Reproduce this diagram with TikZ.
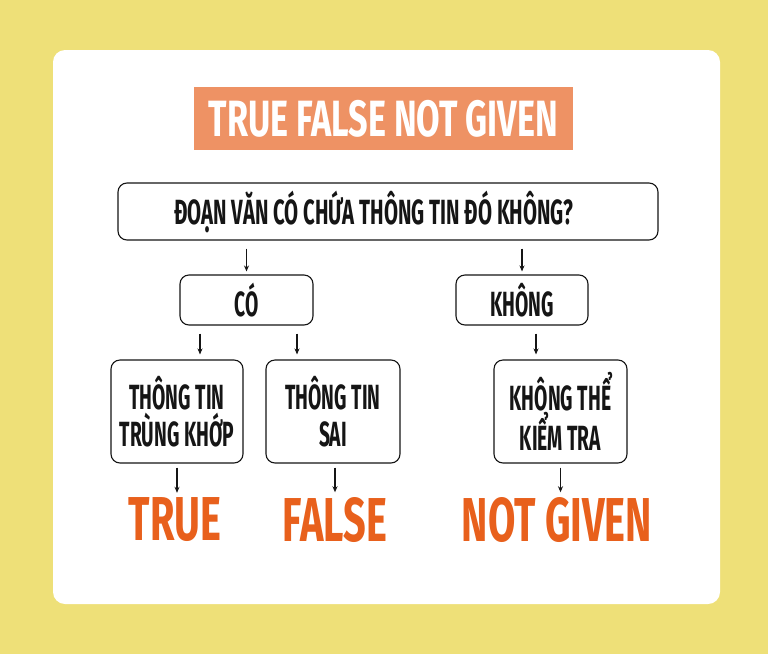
\documentclass[tikz,border=0pt]{standalone}
\usepackage{fontspec}
\newfontfamily\cfT{Fira Sans}[FakeStretch=0.67]
\newfontfamily\cfR{Fira Sans}[FakeStretch=0.64]
\newfontfamily\cfB{Fira Sans}[FakeStretch=0.55]
\newfontfamily\cfQ{Fira Sans}[FakeStretch=0.58]
\usetikzlibrary{arrows.meta}
\definecolor{bgy}{HTML}{EEE078}
\definecolor{ttl}{HTML}{EE9264}
\definecolor{res}{HTML}{E8601C}
\definecolor{ink}{HTML}{151515}
\begin{document}
\begin{tikzpicture}[x=1pt,y=-1pt,
  box/.style={draw=ink, line width=1.1pt, rounded corners=9pt, fill=white, inner sep=0pt, align=center},
  boxtxt/.style={font=\cfB\bfseries\fontsize{35}{37}\selectfont, text=ink},
  restxt/.style={font=\cfR\bfseries\fontsize{62}{62}\selectfont, text=res, inner sep=0pt},
  arr/.style={draw=ink, line width=1.1pt, -{Stealth[length=6pt,width=5pt]}}]
\useasboundingbox (0,0) rectangle (768,654);
\fill[bgy] (0,0) rectangle (768,654);
\fill[white, rounded corners=12pt] (53,50) rectangle (720,604);
\node[fill=ttl, minimum width=379pt, minimum height=63pt, inner sep=0pt,
  font=\cfT\bfseries\fontsize{51}{51}\selectfont, text=white] (title) at (383.5,118.5) {TRUE FALSE NOT GIVEN};
\node[box, font=\cfQ\bfseries\fontsize{35}{37}\selectfont, text=ink, minimum width=540pt, minimum height=57pt] (q) at (388,211.5) {ĐOẠN VĂN CÓ CHỨA THÔNG TIN ĐÓ KHÔNG?\hspace*{28pt}};
\node[box, boxtxt, minimum width=133pt, minimum height=50pt] (co) at (246.5,300) {CÓ};
\node[box, boxtxt, minimum width=132pt, minimum height=50pt] (kh) at (522,300) {KHÔNG};
\node[box, boxtxt, minimum width=132pt, minimum height=103pt] (ttk) at (177,411.5) {THÔNG TIN\\TRÙNG KHỚP};
\node[box, boxtxt, minimum width=134pt, minimum height=103pt] (tts) at (333,411.5) {THÔNG TIN\\SAI};
\node[box, boxtxt, minimum width=133pt, minimum height=103pt] (kt) at (560.5,411.5) {KHÔNG THỂ\\KIỂM TRA};
\node[restxt] (rt) at (175,520) {TRUE};
\node[restxt] (rf) at (335,520) {FALSE};
\node[restxt] (rn) at (557,520) {NOT GIVEN};
\draw[arr, shorten <=8pt, shorten >=3pt] (q.south -| co.north) -- (co.north);
\draw[arr, shorten <=8pt, shorten >=3pt] (q.south -| kh.north) -- (kh.north);
\draw[arr, shorten <=8pt, shorten >=5pt] ([xshift=-46.5pt]co.south) -- ([xshift=-46.5pt]co.south |- ttk.north);
\draw[arr, shorten <=8pt, shorten >=5pt] ([xshift=50.5pt]co.south) -- ([xshift=50.5pt]co.south |- tts.north);
\draw[arr, shorten <=8pt, shorten >=5pt] ([xshift=14pt]kh.south) -- ([xshift=14pt]kh.south |- kt.north);
\draw[arr, shorten <=4pt, shorten >=5pt] (ttk.south) -- (ttk.south |- rt.north);
\draw[arr, shorten <=4pt, shorten >=5pt] ([xshift=2pt]tts.south) -- ([xshift=2pt]tts.south |- rf.north);
\draw[arr, shorten <=4pt, shorten >=5pt] (kt.south) -- (kt.south |- rn.north);
\end{tikzpicture}
\end{document}
